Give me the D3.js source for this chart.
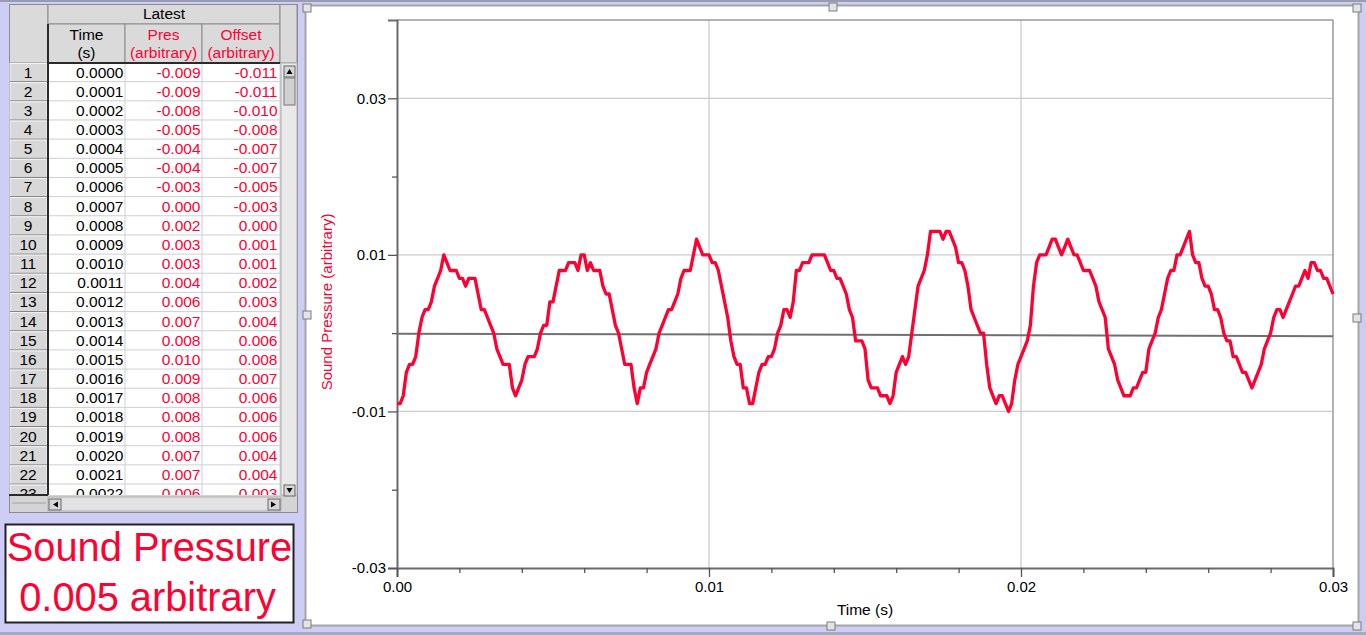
<!DOCTYPE html>
<html><head><meta charset="utf-8">
<script src="https://cdn.jsdelivr.net/npm/d3@7/dist/d3.min.js"></script>
<style>
html,body{margin:0;padding:0;background:#cdcdf5;overflow:hidden}
svg{display:block;font-family:"Liberation Sans",Arial,Helvetica,sans-serif}
</style></head><body>
<svg id="c" width="1366" height="635"></svg>
<script>
// ---------------- DATA ----------------
const sampleInterval = 0.0001; // s between samples (Time column step)
const pressure = [
-0.009,-0.009,-0.008,-0.005,-0.004,-0.004,-0.003,0.000,0.002,0.003,
0.003,0.004,0.006,0.007,0.008,0.010,0.009,0.008,0.008,0.008,
0.007,0.007,0.006,0.007,0.007,0.007,0.005,0.003,0.003,0.002,
0.001,0.000,-0.002,-0.003,-0.004,-0.004,-0.004,-0.007,-0.008,-0.007,
-0.006,-0.004,-0.003,-0.003,-0.003,-0.002,0.000,0.001,0.001,0.004,
0.004,0.006,0.008,0.008,0.008,0.009,0.009,0.009,0.008,0.010,
0.010,0.008,0.009,0.008,0.008,0.008,0.006,0.005,0.005,0.003,
0.001,0.000,-0.002,-0.004,-0.004,-0.004,-0.007,-0.009,-0.007,-0.007,
-0.005,-0.004,-0.003,-0.002,0.000,0.001,0.002,0.003,0.003,0.004,
0.005,0.007,0.008,0.008,0.008,0.010,0.012,0.011,0.010,0.010,
0.010,0.009,0.009,0.008,0.006,0.004,0.002,-0.001,-0.003,-0.004,
-0.004,-0.007,-0.007,-0.009,-0.009,-0.007,-0.005,-0.004,-0.004,-0.003,
-0.003,-0.002,0.000,0.001,0.003,0.003,0.002,0.004,0.008,0.008,
0.009,0.009,0.009,0.010,0.010,0.010,0.010,0.010,0.009,0.008,
0.008,0.007,0.007,0.006,0.005,0.003,0.002,-0.001,-0.001,-0.001,
-0.002,-0.006,-0.007,-0.007,-0.007,-0.008,-0.008,-0.008,-0.009,-0.008,
-0.005,-0.004,-0.003,-0.004,-0.003,0.000,0.003,0.006,0.007,0.008,
0.010,0.013,0.013,0.013,0.013,0.012,0.013,0.013,0.012,0.011,
0.009,0.009,0.008,0.006,0.003,0.002,0.001,0.000,0.000,-0.004,
-0.007,-0.008,-0.009,-0.008,-0.008,-0.009,-0.010,-0.009,-0.006,-0.004,
-0.003,-0.002,-0.001,0.001,0.006,0.009,0.010,0.010,0.010,0.011,
0.012,0.012,0.011,0.010,0.011,0.012,0.011,0.010,0.010,0.009,
0.008,0.008,0.008,0.007,0.006,0.004,0.003,0.002,-0.002,-0.003,
-0.004,-0.006,-0.007,-0.008,-0.008,-0.008,-0.007,-0.007,-0.006,-0.005,
-0.005,-0.002,-0.001,0.000,0.002,0.003,0.005,0.007,0.008,0.008,
0.010,0.010,0.011,0.012,0.013,0.010,0.009,0.009,0.007,0.006,
0.006,0.005,0.003,0.003,0.002,0.000,-0.001,-0.001,-0.003,-0.003,
-0.004,-0.005,-0.005,-0.006,-0.007,-0.006,-0.005,-0.004,-0.002,-0.001,
0.000,0.002,0.003,0.003,0.002,0.003,0.004,0.005,0.006,0.006,
0.007,0.008,0.007,0.009,0.009,0.008,0.008,0.007,0.007,0.006,
0.005
];
const offsetColumn = [-0.011,-0.011,-0.010,-0.008,-0.007,-0.007,-0.005,-0.003,0.000,0.001,
0.001,0.002,0.003,0.004,0.006,0.008,0.007,0.006,0.006,0.006,0.004,0.004,0.003];
const xMajorTicks = [0, 0.01, 0.02, 0.03];
const xMinorTicks = [0.002,0.004,0.006,0.008,0.012,0.014,0.016,0.018,0.022,0.024,0.026,0.028];
const yMajorTicks = [-0.03, -0.01, 0.01, 0.03];
const yMinorTicks = [-0.02, 0, 0.02];
const tableHeaders = [
  {l1:"Time", l2:"(s)", color:"#000"},
  {l1:"Pres", l2:"(arbitrary)", color:"#ff0033"},
  {l1:"Offset", l2:"(arbitrary)", color:"#ff0033"}
];
const meterLabel = "Sound Pressure";
const meterValue = 0.005;
const meterUnit = "arbitrary";
const xTitle = "Time (s)";
const yTitle = "Sound Pressure (arbitrary)";

// ---------------- DRAW ----------------
const RED = "#ff0033";
const svg = d3.select("#c");
const W = 1366, H = 635;
const fmt = (v, d) => v.toFixed(d);

// window chrome
svg.append("rect").attr("width",W).attr("height",H).attr("fill","#cdcdf5");
svg.append("rect").attr("x",0).attr("y",0).attr("width",W).attr("height",2).attr("fill","#9a9ab0");
svg.append("rect").attr("x",0).attr("y",632).attr("width",W).attr("height",3).attr("fill","#a8a8c0");

// ---------- chart panel ----------
svg.append("rect").attr("x",305.5).attr("y",5.5).attr("width",1053).attr("height",620)
  .attr("fill","#fff").attr("stroke","#a6a6a6").attr("stroke-width",2);

const x = d3.scaleLinear().domain([0,0.03]).range([397,1333]);
const y = d3.scaleLinear().domain([-0.03,0.04]).range([568,20]);
const plotL = x.range()[0], plotR = x.range()[1], plotT = y.range()[1], plotB = y.range()[0];

const grid = svg.append("g");
grid.selectAll("line.gy").data(yMajorTicks.filter(v=>v>-0.03)).join("line")
  .attr("x1",plotL).attr("x2",plotR).attr("y1",d=>y(d)).attr("y2",d=>y(d))
  .attr("stroke","#cbcbcb").attr("stroke-width",1.3);
grid.selectAll("line.gx").data(xMajorTicks.filter(v=>v>0 && v<0.03)).join("line")
  .attr("y1",plotT).attr("y2",plotB).attr("x1",d=>x(d)).attr("x2",d=>x(d))
  .attr("stroke","#cbcbcb").attr("stroke-width",1.3);

// frame: top/right lighter, left/bottom axes darker
svg.append("line").attr("x1",plotL).attr("x2",plotR).attr("y1",plotT).attr("y2",plotT).attr("stroke","#9a9a9a").attr("stroke-width",1.5);
svg.append("line").attr("x1",plotR).attr("x2",plotR).attr("y1",plotT).attr("y2",plotB).attr("stroke","#9a9a9a").attr("stroke-width",1.5);

// axes via d3
const yAxis = d3.axisLeft(y).tickValues(yMajorTicks).tickFormat(d=>fmt(d,2)).tickSize(9).tickPadding(2);
const gy = svg.append("g").attr("transform",`translate(${plotL},0)`).call(yAxis);
const yAxisMinor = d3.axisLeft(y).tickValues(yMinorTicks).tickFormat("").tickSize(5);
const gym = svg.append("g").attr("transform",`translate(${plotL},0)`).call(yAxisMinor);
const xAxis = d3.axisBottom(x).tickValues(xMajorTicks).tickFormat(d=>fmt(d,2)).tickSize(9).tickPadding(4);
const gx = svg.append("g").attr("transform",`translate(0,${plotB})`).call(xAxis);
const xAxisMinor = d3.axisBottom(x).tickValues(xMinorTicks).tickFormat("").tickSize(5);
const gxm = svg.append("g").attr("transform",`translate(0,${plotB})`).call(xAxisMinor);
[gy,gym,gx,gxm].forEach(g=>{
  g.select(".domain").attr("stroke","#6a6a6a").attr("stroke-width",2);
  g.selectAll(".tick line").attr("stroke","#555").attr("stroke-width",1.3);
  g.selectAll("text").attr("font-family","'Liberation Sans',Arial,sans-serif").attr("font-size",15).attr("fill","#000");
});
gym.select(".domain").remove(); gxm.select(".domain").remove();

// zero line
svg.append("line").attr("x1",plotL).attr("x2",plotR).attr("y1",y(0)+0.5).attr("y2",y(0)+3)
  .attr("stroke","#707070").attr("stroke-width",2);

// data line
const line = d3.line().x((d,i)=>x(i*sampleInterval)).y(d=>y(d));
svg.append("path").datum(pressure).attr("d",line).attr("fill","none")
  .attr("stroke",RED).attr("stroke-width",3.3).attr("stroke-linejoin","round");

// titles
svg.append("text").attr("x",(plotL+plotR)/2).attr("y",615).attr("text-anchor","middle")
  .attr("font-size",15.5).attr("fill","#000").text(xTitle);
svg.append("text").attr("transform","translate(332,302) rotate(-90)").attr("text-anchor","middle")
  .attr("font-size",15).attr("fill",RED).text(yTitle);

// handles
const handles = [[307,8],[833,7],[1357,8],[307,315],[1357,318],[307,624],[831,626],[1357,626]];
svg.selectAll("rect.h").data(handles).join("rect").attr("class","h")
  .attr("x",d=>d[0]-4).attr("y",d=>d[1]-4).attr("width",8).attr("height",8)
  .attr("fill","#e4e4e4").attr("stroke","#7a7a7a").attr("stroke-width",1);

// ---------- table ----------
const T = svg.append("g");
const rowH = 19.16, bodyTop = 63, bodyBot = 495;
const colX = [48,125,202,280]; // column edges
T.append("rect").attr("x",9.5).attr("y",4.5).attr("width",288).attr("height",508)
  .attr("fill","#d4d4d4").attr("stroke","#8c8c8c");
// header cells
T.append("rect").attr("x",9.5).attr("y",4.5).attr("width",38.5).attr("height",58.5).attr("fill","#dadada").attr("stroke","#8c8c8c");
T.append("rect").attr("x",48).attr("y",4.5).attr("width",232).attr("height",19.5).attr("fill","#dadada").attr("stroke","#8c8c8c");
T.append("text").attr("x",(48+280)/2).attr("y",19).attr("text-anchor","middle").attr("font-size",15.5).attr("fill","#000").text("Latest");
tableHeaders.forEach((h,i)=>{
  const x0 = colX[i], x1 = colX[i+1];
  T.append("rect").attr("x",x0).attr("y",24).attr("width",x1-x0).attr("height",39).attr("fill","#dadada").attr("stroke","#8c8c8c");
  T.append("text").attr("x",(x0+x1)/2).attr("y",39.5).attr("text-anchor","middle").attr("font-size",15.5).attr("fill",h.color).text(h.l1);
  T.append("text").attr("x",(x0+x1)/2).attr("y",57.5).attr("text-anchor","middle").attr("font-size",15.5).attr("fill",h.color).text(h.l2);
});
T.append("rect").attr("x",280).attr("y",4.5).attr("width",17).attr("height",58.5).attr("fill","#dadada").attr("stroke","#8c8c8c");

// body
T.append("clipPath").attr("id","bodyClip").append("rect").attr("x",9).attr("y",bodyTop).attr("width",272).attr("height",bodyBot-bodyTop);
const body = T.append("g").attr("clip-path","url(#bodyClip)");
body.append("rect").attr("x",48).attr("y",bodyTop).attr("width",232).attr("height",bodyBot-bodyTop).attr("fill","#fff");
const rows = d3.range(offsetColumn.length).map(i=>({i, t:i*sampleInterval, p:pressure[i], o:offsetColumn[i]}));
const rg = body.selectAll("g.row").data(rows).join("g").attr("transform",d=>`translate(0,${bodyTop + d.i*rowH})`);
rg.append("rect").attr("x",10).attr("y",0.5).attr("width",37).attr("height",rowH-1).attr("fill","#d8d8d8").attr("stroke","#f4f4f4").attr("stroke-width",1);
rg.append("line").attr("x1",10).attr("x2",47).attr("y1",rowH-0.5).attr("y2",rowH-0.5).attr("stroke","#7c7c7c");
rg.append("line").attr("x1",48).attr("x2",280).attr("y1",rowH-0.5).attr("y2",rowH-0.5).attr("stroke","#cfcfcf");
rg.append("text").attr("x",28).attr("y",14.5).attr("text-anchor","middle").attr("font-size",15.5).attr("fill","#000").text(d=>d.i+1);
rg.append("text").attr("x",123.5).attr("y",14.5).attr("text-anchor","end").attr("font-size",15.5).attr("fill","#000").text(d=>fmt(d.t,4));
rg.append("text").attr("x",200.5).attr("y",14.5).attr("text-anchor","end").attr("font-size",15.5).attr("fill",RED).text(d=>fmt(d.p,3));
rg.append("text").attr("x",277.5).attr("y",14.5).attr("text-anchor","end").attr("font-size",15.5).attr("fill",RED).text(d=>fmt(d.o,3));
[125,202,280].forEach(cx=>body.append("line").attr("x1",cx).attr("x2",cx).attr("y1",bodyTop).attr("y2",bodyBot).attr("stroke","#cfcfcf"));
// thick separators
T.append("line").attr("x1",48).attr("x2",48).attr("y1",24).attr("y2",bodyBot).attr("stroke","#2a2a2a").attr("stroke-width",2);
T.append("line").attr("x1",48).attr("x2",280).attr("y1",63).attr("y2",63).attr("stroke","#2a2a2a").attr("stroke-width",2);
T.append("line").attr("x1",9).attr("x2",48).attr("y1",bodyBot).attr("y2",bodyBot).attr("stroke","#2a2a2a").attr("stroke-width",2);

// vertical scrollbar
T.append("rect").attr("x",281).attr("y",63).attr("width",16).attr("height",bodyBot-63).attr("fill","#e9e9e9").attr("stroke","#b0b0b0");
T.append("rect").attr("x",284).attr("y",66).attr("width",11).attr("height",11).attr("fill","#d6d6d6").attr("stroke","#666");
T.append("path").attr("d","M286.5,74 L292.5,74 L289.5,69 Z").attr("fill","#000");
T.append("rect").attr("x",284).attr("y",78).attr("width",11).attr("height",27).attr("fill","#d0d0d0").attr("stroke","#777");
T.append("rect").attr("x",284).attr("y",485).attr("width",11).attr("height",11).attr("fill","#d6d6d6").attr("stroke","#666");
T.append("path").attr("d","M286.5,488 L292.5,488 L289.5,493 Z").attr("fill","#000");
// horizontal scrollbar
T.append("rect").attr("x",48).attr("y",497).attr("width",233).attr("height",14).attr("fill","#e2e2e2").attr("stroke","#b0b0b0");
T.append("rect").attr("x",49).attr("y",499).attr("width",12).attr("height",11).attr("fill","#d6d6d6").attr("stroke","#666");
T.append("path").attr("d","M53,504.5 L58,501.5 L58,507.5 Z").attr("fill","#000");
T.append("rect").attr("x",268).attr("y",499).attr("width",12).attr("height",11).attr("fill","#d6d6d6").attr("stroke","#666");
T.append("path").attr("d","M276,504.5 L271,501.5 L271,507.5 Z").attr("fill","#000");
T.append("line").attr("x1",12).attr("x2",46).attr("y1",503).attr("y2",503).attr("stroke","#a0a0a0");

// ---------- meter ----------
svg.append("rect").attr("x",5.5).attr("y",524.5).attr("width",288).attr("height",98)
  .attr("fill","#fff").attr("stroke","#222").attr("stroke-width",2);
svg.append("text").attr("x",149.5).attr("y",561).attr("text-anchor","middle").attr("font-size",39.8).attr("fill",RED).text(meterLabel);
svg.append("text").attr("x",147.5).attr("y",611).attr("text-anchor","middle").attr("font-size",39.8).attr("fill",RED).text(fmt(meterValue,3)+" "+meterUnit);
</script>
</body></html>
